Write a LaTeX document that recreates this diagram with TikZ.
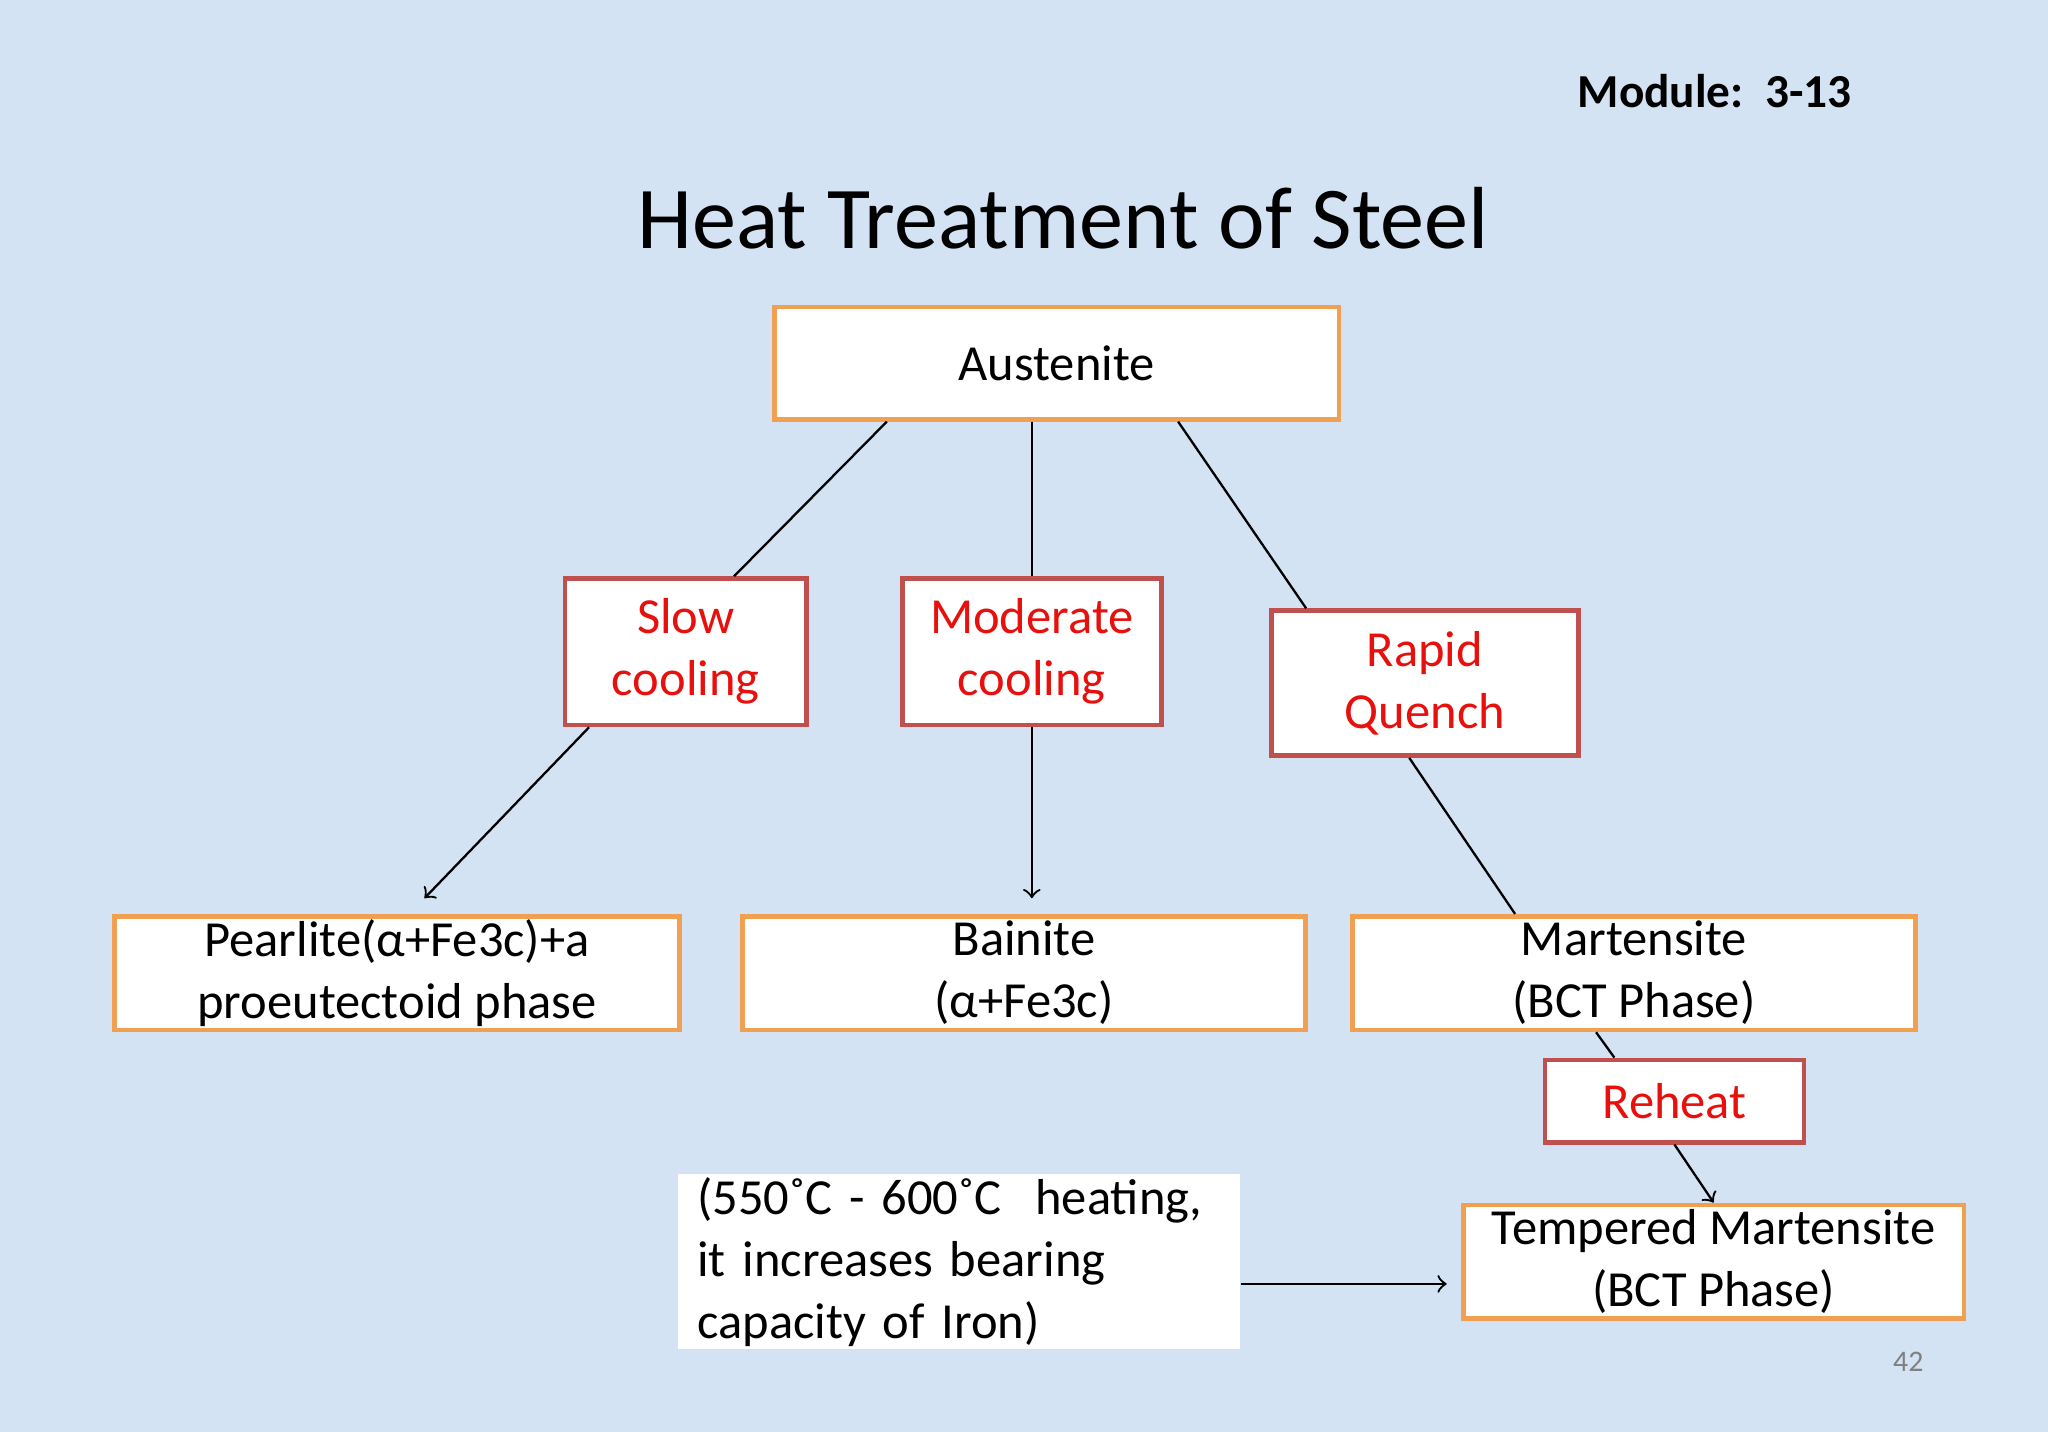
\documentclass[tikz,border=0pt]{standalone}
\usepackage{fontspec}
\setmainfont{Carlito}
\usetikzlibrary{calc}
\definecolor{bg}{HTML}{D3E3F4}
\definecolor{org}{HTML}{F0A050}
\definecolor{rd}{HTML}{C0504D}
\definecolor{tr}{HTML}{E8100C}
\begin{document}
\begin{tikzpicture}[x=0.01cm,y=-0.01cm,
 obox/.style={draw=org,line width=1pt,fill=white,inner sep=0pt,align=center,font=\fontsize{11}{13.5}\selectfont},
 rbox/.style={draw=rd,line width=1pt,fill=white,inner sep=0pt,align=center,text=tr,font=\fontsize{11}{13.5}\selectfont},
 ln/.style={line width=0.5pt},
 arr/.style={line width=0.5pt,->}]
\fill[bg] (0,0) rectangle (1568,1096);
\useasboundingbox (0,0) rectangle (1568,1096);
\node[anchor=east,font=\bfseries\fontsize{10.3}{12}\selectfont] (mod) at (1430,70) {Module:\ \ 3-13};
\node[font=\fontsize{19.2}{22}\selectfont] (title) at (814,167) {Heat Treatment of Steel};
\node[obox,minimum width=4.32cm,minimum height=0.86cm] (aus) at (809,278) {Austenite};
\node[rbox,minimum width=1.85cm,minimum height=1.12cm] (slow) at (525,499) {Slow\\cooling};
\node[rbox,minimum width=1.98cm,minimum height=1.12cm] (mod2) at (790,499) {Moderate\\cooling};
\node[rbox,minimum width=2.35cm,minimum height=1.11cm] (rap) at (1091,523) {Rapid\\Quench};
\node[obox,minimum width=4.32cm,minimum height=0.87cm] (pea) at (304,745) {Pearlite(α+Fe3c)+a\\proeutectoid phase};
\node[obox,minimum width=4.31cm,minimum height=0.87cm] (bai) at (784,745) {Bainite\\(α+Fe3c)};
\node[obox,minimum width=4.31cm,minimum height=0.87cm] (mar) at (1251,745) {Martensite\\(BCT Phase)};
\node[rbox,minimum width=1.98cm,minimum height=0.63cm] (reh) at (1282,843) {Reheat};
\node[obox,minimum width=3.83cm,minimum height=0.87cm] (tem) at (1312,966) {Tempered Martensite\\(BCT Phase)};
\node[fill=white,minimum width=4.30cm,minimum height=1.34cm,inner sep=0pt,align=left,text width=4.0cm,font=\fontsize{11}{13.5}\selectfont] (txt) at (734,966) {(550˚C - 600˚C\ \ heating,\\it increases bearing\\capacity of Iron)};
\node[text=gray,font=\fontsize{6.5}{8}\selectfont] (pg) at (1461,1043) {42};
\draw[ln] ($(aus.south)+(-130,0)$) -- ($(slow.north)+(37,0)$);
\draw[arr] ($(slow.south)+(-74,0)$) -- ($(pea.north)+(21,-12)$);
\draw[ln] ($(aus.south)+(-19,0)$) -- (mod2.north);
\draw[arr] (mod2.south) -- ($(bai.north)+(6,-12)$);
\draw[ln] ($(aus.south)+(93,0)$) -- ($(rap.north)+(-91,0)$);
\draw[ln] ($(rap.south)+(-12,0)$) -- ($(mar.north)+(-91,0)$);
\draw[ln] ($(mar.south)+(-29,0)$) -- ($(reh.north)+(-46,0)$);
\draw[arr] (reh.south) -- (tem.north);
\draw[arr] ($(txt.east)+(0,17)$) -- ($(tem.west)+(-11,17)$);
\end{tikzpicture}
\end{document}
